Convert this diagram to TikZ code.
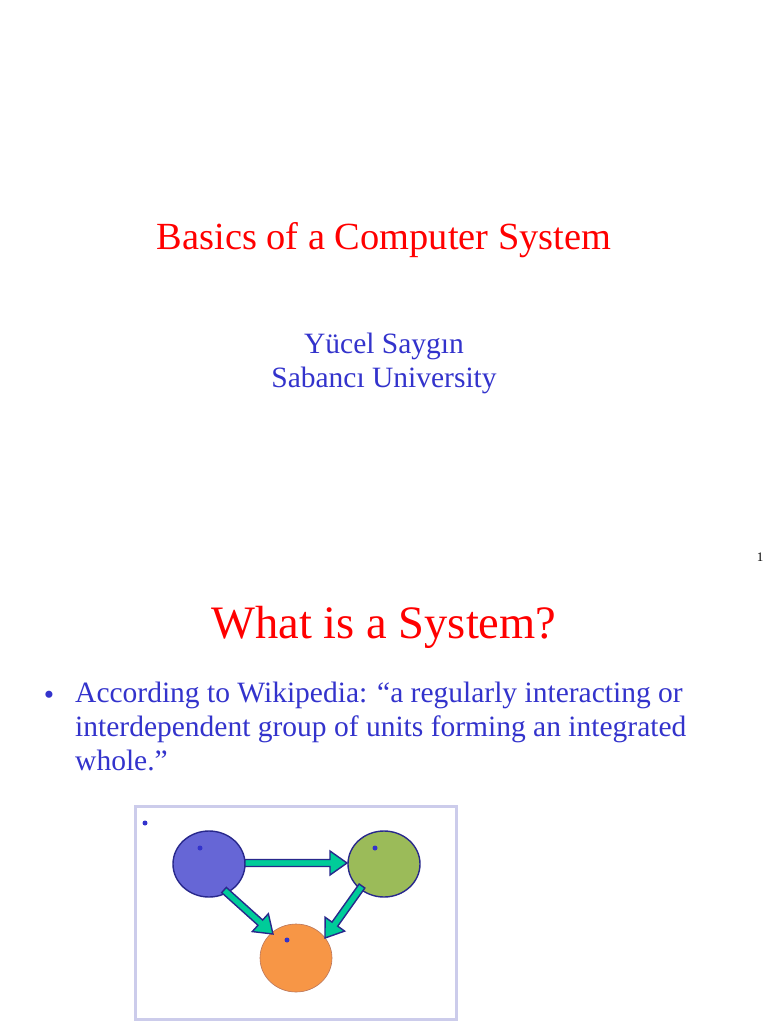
\documentclass[tikz,border=0pt]{standalone}
\usepackage{fontspec}
\setmainfont{Liberation Serif}
\usetikzlibrary{calc,shapes.geometric}
\definecolor{tred}{RGB}{255,0,0}
\definecolor{tblue}{RGB}{51,51,204}
\definecolor{nblue}{RGB}{102,102,214}
\definecolor{ngreen}{RGB}{155,187,89}
\definecolor{norange}{RGB}{247,150,70}
\definecolor{edge}{RGB}{40,40,140}
\definecolor{teal}{RGB}{0,204,153}
\definecolor{frame}{RGB}{204,204,235}
\tikzset{
 circ/.style={draw=edge,line width=1.4pt,ellipse,minimum width=72pt,minimum height=66pt,inner sep=0pt},
 dotm/.style={fill=tblue,circle,inner sep=0pt,minimum size=5pt},
 fat/.style={fill=teal,draw=edge,line width=1.4pt,line join=miter}
}
\newcommand{\fatarrow}[2]{%
 \draw[fat] let \p1=(#1), \p2=(#2), \n1={atan2(\y2-\y1,\x2-\x1)}, \n2={veclen(\x2-\x1,\y2-\y1)} in
 [shift={(\p1)}, rotate=\n1] (0pt,-3.5pt) -- (\n2-17pt,-3.5pt) -- (\n2-17pt,-12pt) -- (\n2,0pt) -- (\n2-17pt,12pt) -- (\n2-17pt,3.5pt) -- (0pt,3.5pt) -- cycle;}
\begin{document}
\begin{tikzpicture}[x=1pt,y=-1pt]
\useasboundingbox (0,0) rectangle (768,1024);
\fill[white] (0,0) rectangle (768,1024);
\node[text=tred,font=\fontsize{38.4}{42}\selectfont] (t1) at (384,240) {Basics of a Computer System};
\node[text=tblue,font=\fontsize{29.5}{34}\selectfont,align=center] (au) at (384,363) {Yücel Saygın\\Sabancı University};
\node[font=\fontsize{13}{15}\selectfont] (pg) at (760,557) {1};
\node[text=tred,font=\fontsize{46.5}{52}\selectfont] (t2) at (384,627) {What is a System?};
\node[text=tblue,font=\fontsize{29.5}{34}\selectfont] (bl) at (49,698) {•};
\node[text=tblue,font=\fontsize{29.5}{34}\selectfont,align=left,anchor=north west,inner sep=0pt] (tx) at (75,682) {According to Wikipedia: “a regularly interacting or\\interdependent group of units forming an integrated\\whole.”};
\draw[frame,line width=3pt] (135,806) rectangle (456,1019);
\node[dotm] (d0) at (145,823) {};
\node[circ,fill=nblue] (a) at (209,864) {};
\node[circ,fill=ngreen] (b) at (384,864) {};
\node[circ,fill=norange,draw=norange!70!edge,line width=0.6pt,minimum height=68pt] (c) at (296,958) {};
\node[dotm] at (200,848) {};
\node[dotm] at (375,848) {};
\node[dotm] at (287,940) {};
\coordinate (a1) at (245,863); \coordinate (b1) at (347,863);
\coordinate (a2) at (224,890); \coordinate (c2) at (273,934);
\coordinate (b3) at (362,886); \coordinate (c3) at (325,938);
\fatarrow{a1}{b1}
\fatarrow{a2}{c2}
\fatarrow{b3}{c3}
\end{tikzpicture}
\end{document}
